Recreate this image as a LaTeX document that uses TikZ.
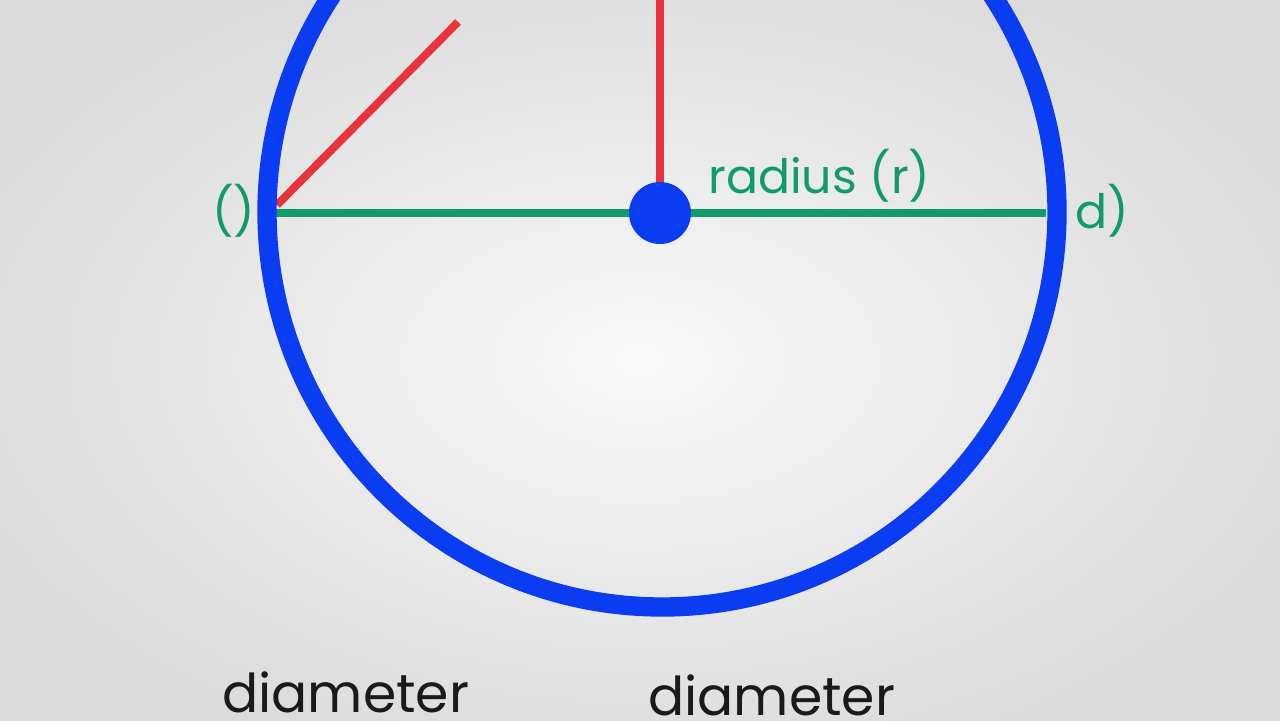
\documentclass[tikz,border=0pt]{standalone}
\usepackage{fontspec}
\setmainfont{Poppins}
\definecolor{ringblue}{HTML}{0A3CF2}
\definecolor{linered}{HTML}{E8333B}
\definecolor{labelgreen}{HTML}{119A6B}
\definecolor{textblack}{HTML}{1A1A1A}
\tikzset{
	label/.style={text=labelgreen,font=\fontsize{27}{32}\selectfont,inner sep=0pt},
	dia/.style={text=textblack,font=\fontsize{30.5}{36}\selectfont,inner sep=0pt,text depth=0pt,anchor=base west}
}
\begin{document}
\begin{tikzpicture}[x=0.02cm,y=-0.02cm]
	\useasboundingbox (0,0) rectangle (1280,720);
	\shade[inner color=white!95!gray,outer color=white!72!gray] (-60,-60) rectangle (1340,780);
	\clip (0,0) rectangle (1280,720);
	\coordinate (top) at (660,-10);
	\coordinate (left) at (275,213);
	\coordinate (right) at (1046,213);
	\coordinate (slant) at (458,22);
	\coordinate (slantend) at (277,205);
	\draw[draw=labelgreen,line width=4.5pt] (left) -- (right);
	\draw[draw=linered,line width=4.5pt] (top) -- (660,200);
	\draw[draw=linered,line width=4.5pt] (slantend) -- (slant);
	\draw[draw=ringblue,line width=11pt] (662,212) circle (395);
	\node[circle,fill=ringblue,minimum size=1.24cm,inner sep=0pt] (centre) at (660,213) {};
	\node[label,anchor=base west] (rad) at (708,193) {radius (r)};
	\node[label,anchor=base west] (lp) at (212,228) {()};
	\node[label,anchor=base west] (rp) at (1075,228) {d)};
	\node[dia] (dia1) at (222,712) {diameter};
	\node[dia] (dia2) at (648,715) {diameter};
\end{tikzpicture}
\end{document}
